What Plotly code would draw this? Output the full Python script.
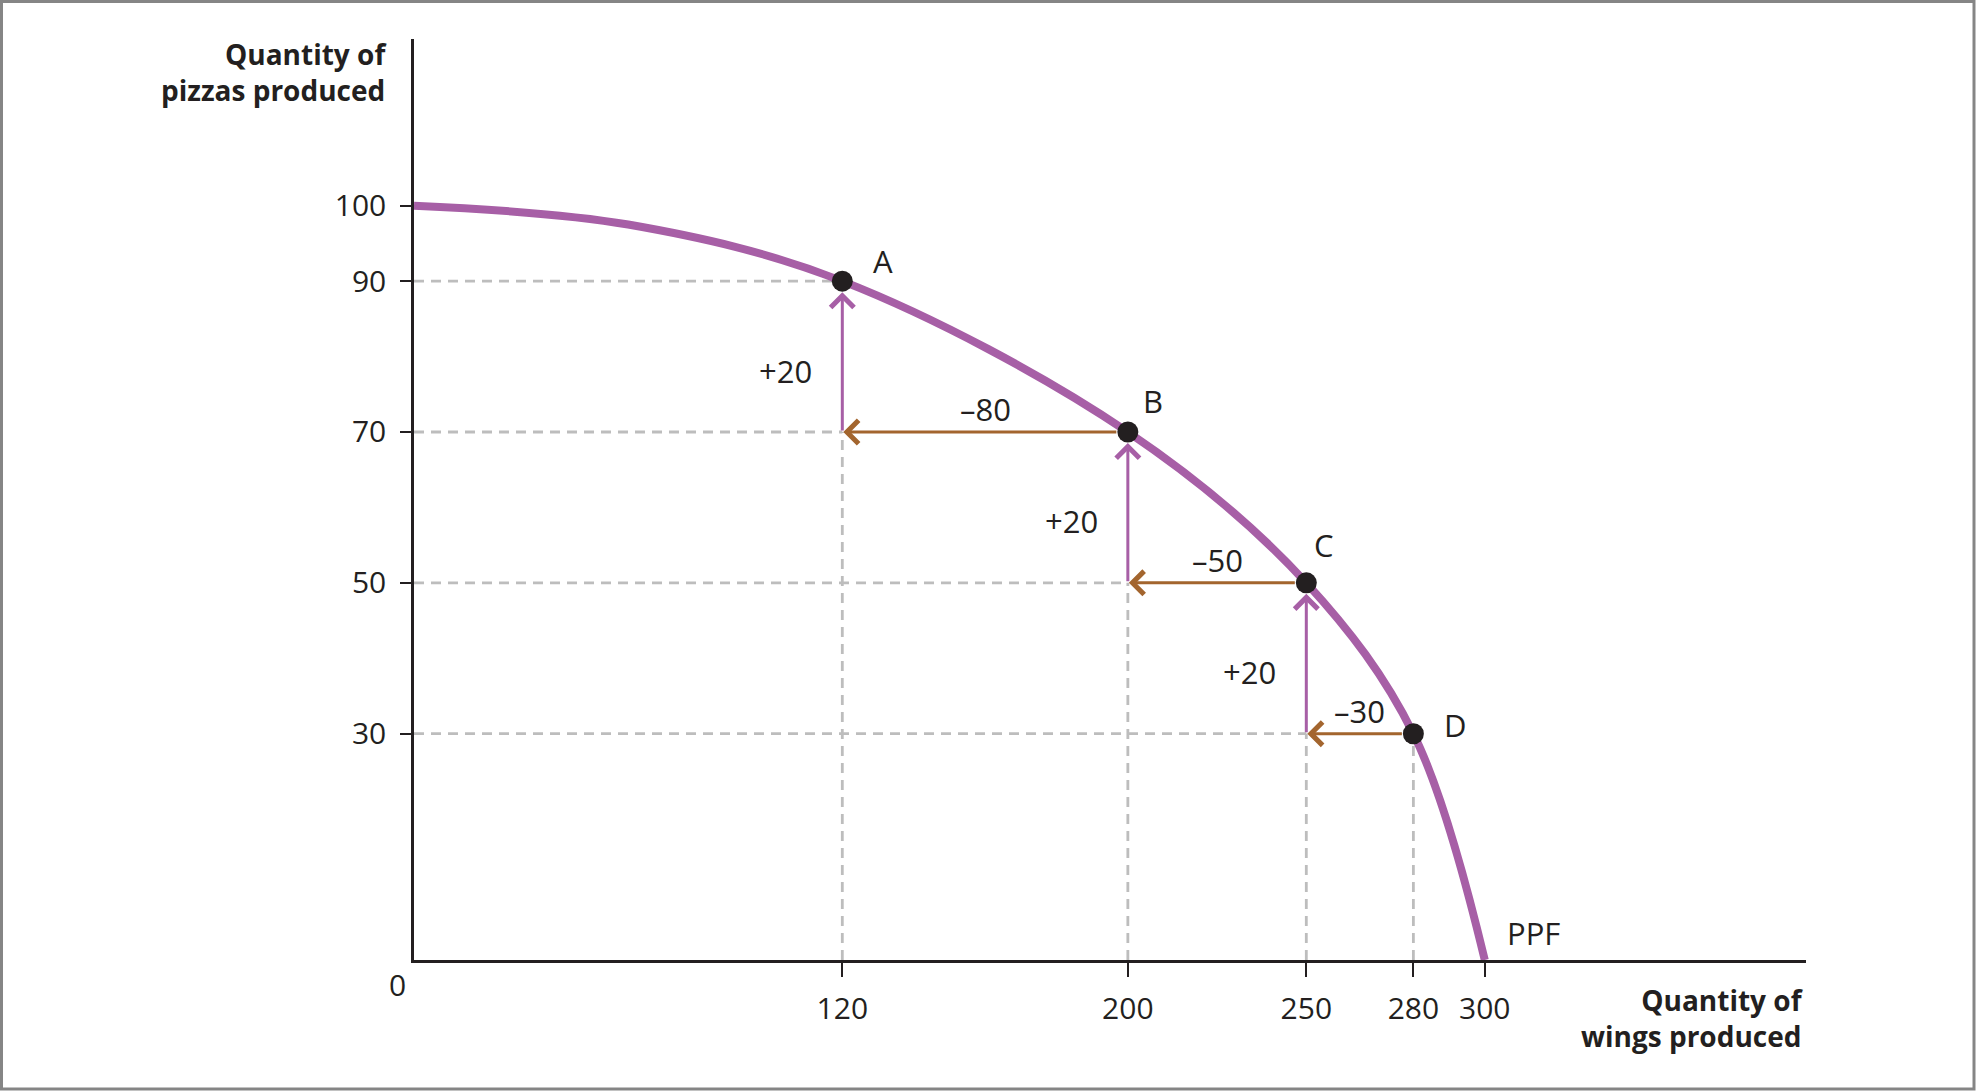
import plotly.graph_objects as go

# ---- data ----
x_ticks = [120, 200, 250, 280, 300]
y_ticks = [30, 50, 70, 90, 100]

ppf_wings = [0, 60, 120, 200, 250, 280, 300]
ppf_pizzas = [100, 97.5, 90, 70, 50, 30, 0]

point_labels = ["A", "B", "C", "D"]
point_wings = [120, 200, 250, 280]
point_pizzas = [90, 70, 50, 30]

# ---- styles ----
PURPLE = "#a75fa6"
BROWN = "#a3652e"
INK = "#231f20"
DASH = "#bdbdbd"
FONT = "Open Sans"
label_offsets = [(41, 20), (25, 31), (18, 38), (42, 9)]

W, H = 1976, 1091
L, R, T, B = 414, 170, 39, 131
pw, ph = W - L - R, H - T - B


def px_to_paper_x(px):
    return (px - L) / pw


def px_to_paper_y(py):
    return (H - B - py) / ph


fig = go.Figure()

# dashed guide lines
n = len(point_wings)
for i in range(n):
    hx_end = point_wings[i - 1] if i > 0 else point_wings[i]
    fig.add_trace(go.Scatter(x=[0, hx_end], y=[point_pizzas[i], point_pizzas[i]],
                             mode="lines", line=dict(color=DASH, width=2.8, dash="10px,7px"),
                             hoverinfo="skip", showlegend=False))
    vy_end = point_pizzas[i + 1] if i < n - 1 else point_pizzas[i]
    fig.add_trace(go.Scatter(x=[point_wings[i], point_wings[i]], y=[0, vy_end],
                             mode="lines", line=dict(color=DASH, width=2.8, dash="10px,7px"),
                             hoverinfo="skip", showlegend=False))

# PPF curve
fig.add_trace(go.Scatter(x=ppf_wings, y=ppf_pizzas, mode="lines",
                         line=dict(color=PURPLE, width=8, shape="spline", smoothing=1.0),
                         hoverinfo="skip", showlegend=False))

# points
fig.add_trace(go.Scatter(x=point_wings, y=point_pizzas, mode="markers",
                         marker=dict(color=INK, size=21, line=dict(width=0)),
                         hoverinfo="skip", showlegend=False))

LBL = 31
ann = []
for i, lab in enumerate(point_labels):
    dx, dy = label_offsets[i]
    ann.append(dict(x=point_wings[i], y=point_pizzas[i], xref="x", yref="y", text=lab,
                    showarrow=False, xshift=dx, yshift=dy,
                    font=dict(family=FONT, size=LBL, color=INK)))

for i in range(1, n):
    # brown arrow: wings given up
    ann.append(dict(x=point_wings[i - 1], y=point_pizzas[i], ax=point_wings[i], ay=point_pizzas[i],
                    xref="x", yref="y", axref="x", ayref="y", text="", showarrow=True,
                    arrowhead=4, arrowsize=1.5, arrowwidth=3, arrowcolor=BROWN,
                    standoff=1, startstandoff=10))
    # purple arrow: pizzas gained
    ann.append(dict(x=point_wings[i - 1], y=point_pizzas[i - 1], ax=point_wings[i - 1], ay=point_pizzas[i],
                    xref="x", yref="y", axref="x", ayref="y", text="", showarrow=True,
                    arrowhead=4, arrowsize=1.5, arrowwidth=3, arrowcolor=PURPLE,
                    standoff=11, startstandoff=0))
    gain = point_pizzas[i - 1] - point_pizzas[i]
    loss = point_wings[i - 1] - point_wings[i]
    ann.append(dict(x=point_wings[i - 1], y=(point_pizzas[i - 1] + point_pizzas[i]) / 2,
                    xref="x", yref="y", text=f"+{gain}", showarrow=False,
                    xanchor="right", xshift=-28, yshift=-14,
                    font=dict(family=FONT, size=LBL, color=INK)))
    ann.append(dict(x=(point_wings[i - 1] + point_wings[i]) / 2, y=point_pizzas[i],
                    xref="x", yref="y", text=f"\u2013{abs(loss)}", showarrow=False,
                    yshift=23, font=dict(family=FONT, size=LBL, color=INK)))

# PPF label and origin
ann.append(dict(x=ppf_wings[-1], y=ppf_pizzas[-1], xref="x", yref="y", text="PPF",
                showarrow=False, xanchor="left", xshift=20, yshift=27,
                font=dict(family=FONT, size=LBL, color=INK)))
ann.append(dict(x=0, y=0, xref="x", yref="y", text="0", showarrow=False,
                xshift=-17, yshift=-24, font=dict(family=FONT, size=30, color=INK)))

# axis titles
ann.append(dict(x=px_to_paper_x(389), y=px_to_paper_y(72), xref="paper", yref="paper",
                text="<b>Quantity of<br>pizzas produced</b>", showarrow=False,
                xanchor="right", yanchor="middle", align="right",
                font=dict(family=FONT, size=28, color=INK)))
ann.append(dict(x=px_to_paper_x(1806), y=px_to_paper_y(1018), xref="paper", yref="paper",
                text="<b>Quantity of<br>wings produced</b>", showarrow=False,
                xanchor="right", yanchor="middle", align="right",
                font=dict(family=FONT, size=28, color=INK)))

# frame around the picture
shapes = [dict(type="rect", xref="paper", yref="paper",
               x0=px_to_paper_x(1.5), x1=px_to_paper_x(W - 2),
               y0=px_to_paper_y(H - 2), y1=px_to_paper_y(1.5),
               line=dict(color="#858585", width=3), fillcolor="rgba(0,0,0,0)", layer="below")]

fig.update_layout(
    width=W, height=H, autosize=False,
    margin=dict(l=L, r=R, t=T, b=B, pad=0),
    paper_bgcolor="white", plot_bgcolor="white",
    showlegend=False,
    annotations=ann, shapes=shapes,
    xaxis=dict(range=[0, 390], showgrid=False, zeroline=False, showline=True,
               linecolor=INK, linewidth=2.5, ticks="outside", ticklen=14, tickwidth=2,
               tickcolor=INK, tickvals=x_ticks, ticktext=[str(v) for v in x_ticks],
               tickfont=dict(family=FONT, size=30, color=INK), ticklabelstandoff=6,
               fixedrange=True),
    yaxis=dict(range=[0, 122.1], showgrid=False, zeroline=False, showline=True,
               linecolor=INK, linewidth=2.5, ticks="outside", ticklen=11, tickwidth=2,
               tickcolor=INK, tickvals=y_ticks, ticktext=[str(v) for v in y_ticks],
               tickfont=dict(family=FONT, size=30, color=INK), ticklabelstandoff=8,
               fixedrange=True),
)

fig.write_html("out.html", config={"displayModeBar": False},
               post_script="document.body.style.margin='0';document.body.style.overflow='hidden';")
